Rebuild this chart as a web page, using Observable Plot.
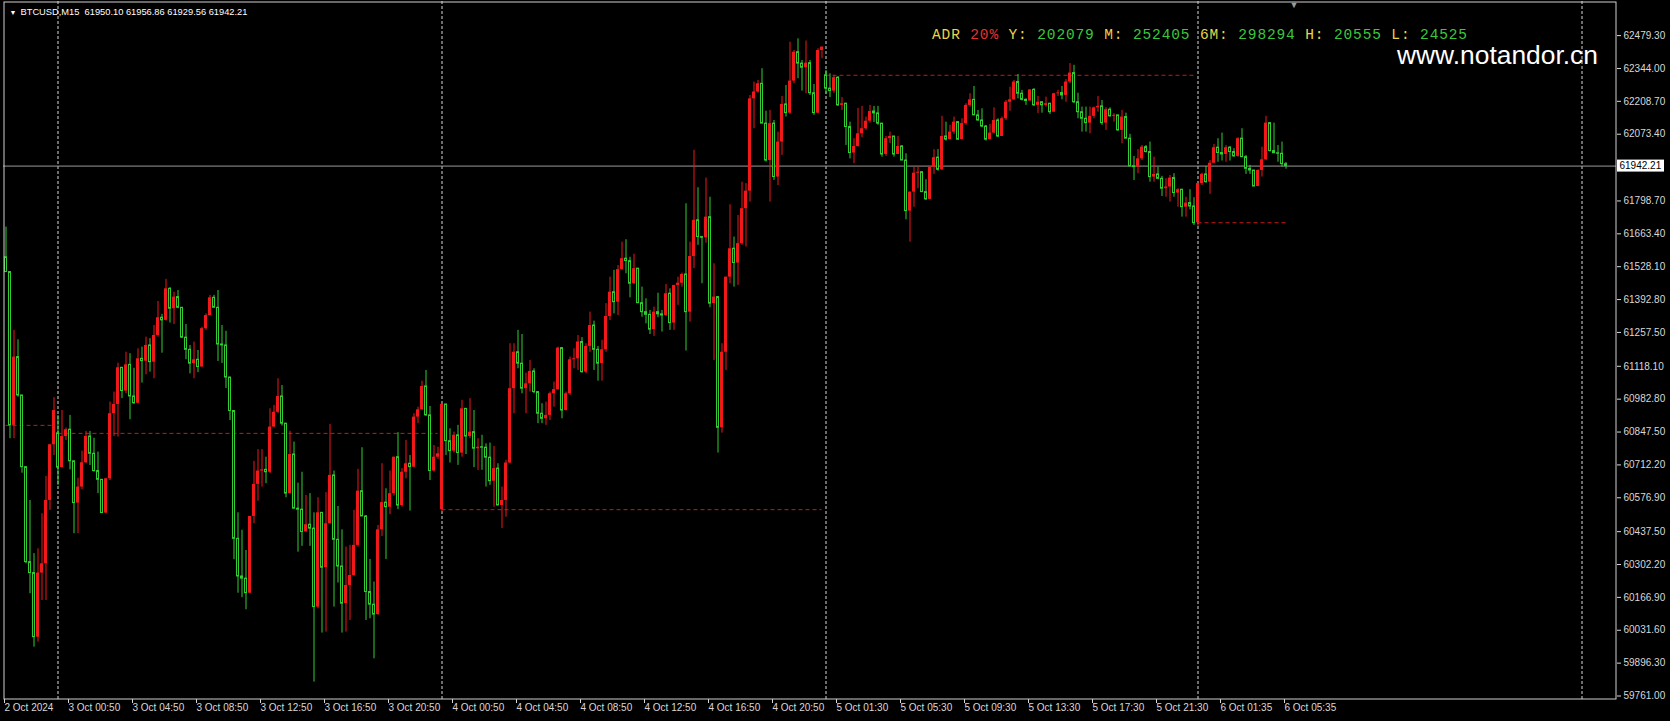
<!DOCTYPE html>
<html><head><meta charset="utf-8">
<script src="https://cdn.jsdelivr.net/npm/d3@7"></script>
<script src="https://cdn.jsdelivr.net/npm/@observablehq/plot@0.6"></script>
<style>
html,body{margin:0;padding:0;background:#000;overflow:hidden}
#chart{position:relative;width:1670px;height:721px}
</style></head><body><div id="chart"></div>
<script>
// ---- data (BTCUSD M15) ----
const closes = [
61506,60875,61156,60998,60703,60312,60267,60003,60267,60305,60566,60795,60936,60701,60829,60857,60727,60555,60621,60721,
60829,60758,60687,60651,60514,60655,60923,60961,61112,61016,61124,60994,60966,61149,61139,61204,61135,61245,61318,61307,
61437,61355,61403,61359,61236,61186,61129,61145,61115,61273,61327,61400,61359,61208,61204,61072,60934,60408,60253,60244,
60184,60500,60632,60687,60692,60682,60868,60929,60994,60882,60594,60755,60532,60528,60436,60466,60450,60127,60515,60289,
60470,60669,60404,60294,60141,60216,60257,60381,60604,60500,60189,60137,60096,60445,60557,60538,60594,60744,60545,60682,
60717,60703,60909,60939,61035,60916,60687,60744,60758,60961,60810,60769,60834,60761,60943,60829,60847,60779,60785,60783,
60742,60645,60697,60545,60566,60720,61026,61176,61129,61026,61046,61097,61012,60923,60902,60916,61005,61022,61193,60936,
61005,61145,61149,61218,61094,61200,61286,61186,61129,61186,61323,61423,61382,61516,61561,61551,61458,61520,61378,61341,
61330,61269,61341,61332,61327,61417,61296,61451,61460,61496,61341,61570,61719,61650,61647,61732,61376,61403,60865,61176,
61485,61602,61543,61623,61767,61839,62219,62247,62281,62117,61965,62117,61897,62041,62196,62160,62292,62411,62364,62347,
62366,62242,62160,62418,62432,62261,62251,62306,62192,62199,62103,61996,62023,62075,62096,62127,62167,62159,62117,61990,
62055,62064,61990,62023,61965,61757,61835,61913,61917,61835,61805,61938,61977,61927,62064,62051,62082,62123,62051,62117,
62192,62215,62151,62130,62105,62051,62078,62130,62064,62137,62205,62215,62288,62240,62215,62210,62256,62192,62205,62192,
62199,62164,62240,62243,62233,62288,62325,62205,62164,62137,62119,62147,62182,62188,62119,62174,62147,62151,62089,62144,
62055,61941,61938,61972,62020,62000,61897,61908,61890,61849,61856,61893,61831,61845,61773,61790,61776,61707,61870,61908,
61876,61954,62018,61996,61990,62018,62000,61982,62055,61979,61931,61924,61858,61924,61968,62119,62004,61995,61993,61950.10,61942.21
];
const highs = [
61691,61506,61266,61227,60998,60703,60566,60347,60367,60511,60665,60797,60989,60916,60936,60864,60916,60727,60657,60769,
60850,60850,60822,60765,60651,60657,60971,61012,61131,61113,61176,61170,61110,61190,61197,61238,61232,61286,61385,61332,
61476,61442,61423,61430,61359,61290,61204,61218,61183,61279,61334,61410,61410,61430,61286,61262,61072,60934,60515,60443,
60360,60500,60727,60775,60775,60744,60943,60957,61067,61039,60882,60851,60806,60637,60682,60587,60594,60515,60577,60515,
60598,60879,60687,60541,60445,60374,60381,60525,60694,60783,60504,60323,60230,60463,60717,60614,60687,60744,60845,60697,
60813,60751,60923,60950,61057,61101,60953,60792,60785,60961,60961,60861,60847,60875,60978,60943,60985,60936,60820,60834,
60799,60802,60788,60717,60621,60731,61211,61211,61266,61249,61090,61142,61108,61012,60964,60971,61012,61053,61197,61193,
61012,61156,61190,61245,61236,61211,61341,61304,61200,61225,61376,61485,61513,61533,61629,61639,61567,61579,61520,61444,
61396,61348,61362,61419,61348,61455,61437,61451,61485,61502,61787,61629,62007,61853,61653,61893,61814,61540,61405,61211,
61485,61783,61650,61739,61876,61870,62233,62288,62295,62343,62168,62171,62130,62082,62229,62274,62452,62418,62466,62377,
62457,62377,62278,62425,62432,62336,62322,62315,62311,62224,62201,62123,62055,62180,62188,62144,62192,62188,62188,62117,
62064,62082,62064,62064,62027,61993,61835,61938,61938,61920,61886,61938,62010,62010,62147,62123,62110,62144,62126,62137,
62199,62240,62270,62171,62178,62110,62114,62182,62137,62144,62212,62267,62295,62319,62254,62219,62256,62261,62229,62205,
62226,62199,62242,62254,62270,62298,62364,62357,62242,62185,62185,62185,62185,62229,62212,62182,62182,62158,62147,62171,
62160,62073,61982,62010,62027,62027,62041,61979,61938,61900,61890,61904,61911,61849,61845,61814,61845,61812,61872,61913,
61941,61965,62031,62055,62078,62027,62023,62014,62059,62096,61986,61945,61924,61927,62020,62147,62119,62119,62027,62041,61956.86
];
const lows = [
61506,60820,60820,60991,60678,60305,60182,59962,59983,60154,60154,60525,60751,60628,60701,60813,60692,60429,60429,60610,
60717,60710,60682,60594,60514,60511,60648,60829,60827,60985,61005,60898,60961,60964,61049,61083,61094,61067,61238,61172,
61304,61296,61290,61355,61232,61145,61087,61067,61092,61115,61266,61327,61359,61138,61130,61027,60895,60322,60184,60166,
60116,60184,60470,60563,60621,60635,60676,60865,60923,60872,60577,60594,60532,60353,60377,60436,60377,59818,60120,60020,
60024,60470,60127,60226,60020,60024,60072,60253,60374,60500,60072,60079,59914,60093,60418,60323,60508,60584,60528,60538,
60655,60522,60701,60882,60936,60912,60648,60682,60735,60517,60751,60720,60761,60710,60744,60755,60820,60701,60690,60690,
60621,60628,60538,60545,60450,60497,60717,60923,61108,61005,60923,61012,61005,60882,60882,60875,60895,60950,61019,60902,
60934,60998,61108,61101,61090,61087,61176,61101,61057,61057,61176,61307,61334,61327,61513,61499,61400,61455,61376,61320,
61293,61249,61241,61318,61259,61323,61266,61266,61369,61444,61181,61300,61520,61616,61458,61625,61359,61142,60761,60843,
61101,61458,61444,61451,61616,61609,61794,62096,62242,62117,61958,61794,61883,61862,61986,62144,62155,62281,62302,62251,
62240,62233,62151,62158,62384,62237,62224,62242,62188,62171,62027,61972,61952,62020,62059,62089,62119,62122,62110,61979,
61982,62035,61979,61990,61965,61721,61629,61773,61849,61834,61801,61805,61908,61921,61924,62045,62051,62073,62048,62051,
62110,62185,62151,62127,62100,62045,62051,62075,62059,62064,62130,62168,62212,62219,62210,62192,62210,62188,62158,62160,
62185,62155,62164,62229,62215,62205,62281,62199,62137,62082,62082,62075,62137,62164,62110,62089,62144,62123,62086,62034,
62055,61941,61883,61911,61965,61996,61876,61876,61886,61817,61814,61794,61814,61773,61732,61732,61762,61698,61694,61862,
61872,61826,61952,61958,61963,61958,61963,61979,61979,61977,61908,61908,61858,61858,61897,61965,62000,61995,61958,61938,61929.56
];
const firstOpen = 61567;
// day-open levels (red dashed lines) and the bars they span
const dayStartIdx = [0, 13, 109, 205, 298];
const dayEndIdx   = [12, 108, 204, 297, 320];
const dayOpenPrice = [60875, 60842, 60528, 62316, 61709];
// period separators (dotted verticals)
const separatorIdx = [13, 109, 205, 298, 394];
// axis labels
const priceTicks = [62479.30,62344.00,62208.70,62073.40,61798.70,61663.40,61528.10,61392.80,61257.50,61118.10,
  60982.80,60847.50,60712.20,60576.90,60437.50,60302.20,60166.90,60031.60,59896.30,59761.00];
const timeTickIdx = [0,16,32,48,64,80,96,112,128,144,160,176,192,208,224,240,256,272,288,304,320];
const timeTickLabels = ["2 Oct 2024","3 Oct 00:50","3 Oct 04:50","3 Oct 08:50","3 Oct 12:50","3 Oct 16:50","3 Oct 20:50",
  "4 Oct 00:50","4 Oct 04:50","4 Oct 08:50","4 Oct 12:50","4 Oct 16:50","4 Oct 20:50","5 Oct 01:30","5 Oct 05:30",
  "5 Oct 09:30","5 Oct 13:30","5 Oct 17:30","5 Oct 21:30","6 Oct 01:35","6 Oct 05:35"];
const lastPrice = 61942.21;
const headerText = "BTCUSD,M15  61950.10 61956.86 61929.56 61942.21";
const adrLabels = ["ADR", "Y:", "M:", "6M:", "H:", "L:"];
const adrValues = ["20%", "202079", "252405", "298294", "20555", "24525"];
const watermark = "www.notandor.cn";
const shiftMarkIdx = 322;

// ---- build candles ----
const RED = "#f01818", GREEN = "#32cd32";
const candles = closes.map((c, i) => {
  let o;
  const k = dayStartIdx.indexOf(i);
  if (i === 0) o = firstOpen;
  else if (k > 0) o = dayOpenPrice[k];
  else o = closes[i - 1];
  const h = Math.max(highs[i], o, c), l = Math.min(lows[i], o, c);
  return {i, o, c, h, l, up: c >= o};
});
const ups = candles.filter(d => d.up), downs = candles.filter(d => !d.up);
const dayIdx = dayStartIdx.map((_, k) => k);

const chart = Plot.plot({
  width: 1670, height: 721,
  marginLeft: 3, marginTop: 1, marginRight: 54, marginBottom: 22,
  style: {background: "#000", color: "#d8d8d8", fontFamily: "'Liberation Sans', Arial, sans-serif", fontSize: "10px"},
  x: {type: "linear", domain: [0, 320], range: [5.5, 1285.5], label: null},
  y: {type: "linear", domain: [59761, 62479.3], range: [695.5, 35.1], label: null},
  marks: [
    Plot.ruleX(separatorIdx, {x: d => d, stroke: "#d8d8d8", strokeDasharray: "3,2"}),
    Plot.ruleY([lastPrice], {y: d => d, stroke: "#9a9a9a"}),
    Plot.ruleY(dayIdx, {y: k => dayOpenPrice[k], x1: k => dayStartIdx[k], x2: k => dayEndIdx[k],
      stroke: "#c81818", strokeDasharray: "4,3"}),
    Plot.ruleX(ups, {x: "i", y1: "l", y2: "h", stroke: RED}),
    Plot.ruleX(downs, {x: "i", y1: "l", y2: "h", stroke: GREEN}),
    Plot.rect(ups, {x1: d => d.i - 0.375, x2: d => d.i + 0.375, y1: "o", y2: "c", fill: RED, inset: 0}),
    Plot.rect(downs, {x1: d => d.i - 0.25, x2: d => d.i + 0.25, y1: "o", y2: "c", fill: "#000", stroke: GREEN, strokeWidth: 1, inset: 0}),
    Plot.axisY(priceTicks, {anchor: "right", label: null, tickSize: 4, tickPadding: 3, tickFormat: d => d.toFixed(2), fontSize: 10, color: "#d8d8d8"}),
    Plot.axisX(timeTickIdx, {anchor: "bottom", label: null, tickSize: 4, tickPadding: 0, tickFormat: d => timeTickLabels[timeTickIdx.indexOf(d)],
      textAnchor: "start", dx: -1.5, fontSize: 10, color: "#d8d8d8"}),
    Plot.frame({stroke: "#d0d0d0", inset: 0.5}),
    Plot.text([headerText], {frameAnchor: "top-left", dx: 17, dy: 11, lineAnchor: "middle", textAnchor: "start", fill: "#fff", fontSize: 9.3}),
    Plot.text(["▼"], {frameAnchor: "top-left", dx: 6, dy: 11, lineAnchor: "middle", textAnchor: "start", fill: "#fff", fontSize: 7}),
    Plot.text([shiftMarkIdx], {x: d => d, text: () => "▼", frameAnchor: "top", dy: 4, lineAnchor: "middle", fill: "#9a9a9a", fontSize: 9})
  ]
});
document.getElementById("chart").appendChild(chart);

// ---- overlay texts (drawn with d3 using Plot's y scale) ----
const svg = d3.select(chart);
const yPos = chart.scale("y").apply(lastPrice);
svg.append("rect").attr("x", 1617).attr("y", yPos - 6).attr("width", 47).attr("height", 12).attr("fill", "#fff");
svg.append("text").attr("x", 1619.5).attr("y", yPos).attr("dominant-baseline", "central").attr("text-anchor", "start")
  .attr("font-family", "'Liberation Sans', Arial, sans-serif").attr("font-size", 10).attr("fill", "#000").text(lastPrice.toFixed(2));

const YEL = "#e8d44a", AR = "#e83030", AG = "#3cc83c";
const adv = 9.57, x0 = 932, base = 39;
let col = 0;
adrLabels.forEach((lab, k) => {
  const val = adrValues[k];
  svg.append("text").attr("x", x0 + col * adv).attr("y", base).attr("fill", YEL).attr("text-anchor", "start")
    .attr("font-family", "'Liberation Mono', monospace").attr("font-size", 14.5).attr("letter-spacing", 0.87).text(lab);
  col += lab.length + 1;
  svg.append("text").attr("x", x0 + col * adv).attr("y", base).attr("fill", k === 0 ? AR : AG).attr("text-anchor", "start")
    .attr("font-family", "'Liberation Mono', monospace").attr("font-size", 14.5).attr("letter-spacing", 0.87).text(val);
  col += val.length + 1;
});
svg.append("text").attr("x", 1397).attr("y", 64).attr("fill", "#fff").attr("text-anchor", "start")
  .attr("font-family", "'Liberation Sans', Arial, sans-serif").attr("font-size", 25)
  .attr("textLength", 201).attr("lengthAdjust", "spacingAndGlyphs").text(watermark);
</script></body></html>
